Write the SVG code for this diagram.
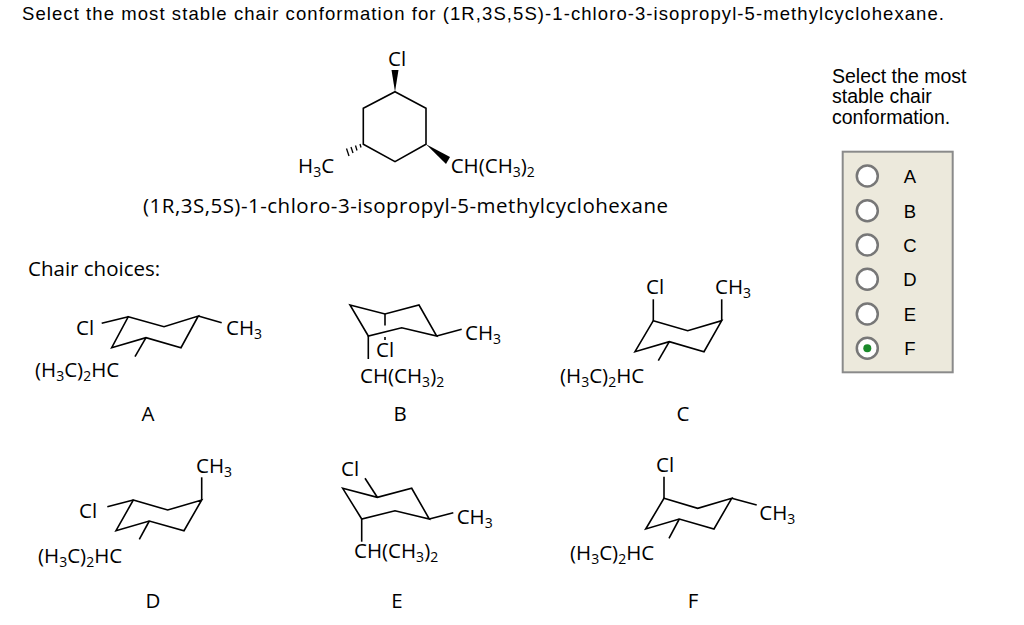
<svg xmlns="http://www.w3.org/2000/svg" width="1024" height="625" viewBox="0 0 1024 625">
<defs>
<style>
.b{fill:none;stroke:#000;stroke-width:1.6;stroke-linejoin:miter}
.t{font-family:"Open Sans","DejaVu Sans",sans-serif;font-size:20.5px;fill:#000}
.s{font-size:14px}
.a{font-family:"Liberation Sans",Arial,sans-serif;fill:#000}
.r{fill:#fff;stroke:#777;stroke-width:2.5}
</style>
</defs>
<rect width="1024" height="625" fill="#fff"/>
<text class="a" x="22" y="20" font-size="18.5" textLength="922">Select the most stable chair conformation for (1R,3S,5S)-1-chloro-3-isopropyl-5-methylcyclohexane.</text>

<g id="molecule">
<polygon class="b" points="395,91.7 426,108.3 426,144.3 395,161.7 363.3,144.3 363.3,108.3"/>
<polygon points="395,91.7 391.5,70 398.5,70" fill="#000"/>
<polygon points="426,144.3 446,164 450,157" fill="#000"/>
<g stroke="#000" stroke-width="1.3">
<line x1="360" y1="144" x2="361" y2="147.5"/><line x1="355.5" y1="145.5" x2="357" y2="150.5"/><line x1="351" y1="147" x2="353" y2="153"/><line x1="346.5" y1="148.5" x2="349" y2="156"/>
</g>
<text class="t" x="388" y="65.7">Cl</text>
<text class="t" x="298" y="173">H<tspan class="s" dy="4">3</tspan><tspan dy="-4">C</tspan></text>
<text class="t" x="450.7" y="173">CH(CH<tspan class="s" dy="4">3</tspan><tspan dy="-4">)</tspan><tspan class="s" dy="4">2</tspan></text>
<text class="t" x="143" y="213" textLength="525">(1R,3S,5S)-1-chloro-3-isopropyl-5-methylcyclohexane</text>
</g>

<text class="t" x="28" y="276">Chair choices:</text>

<g id="chairA">
<polygon class="b" points="128.3,316.7 164,326.7 198.3,316 181,347.7 146,337.7 111.7,347.7"/>
<line class="b" x1="101.7" y1="323.3" x2="128.3" y2="316.7"/>
<line class="b" x1="198.3" y1="316" x2="221.7" y2="322.7"/>
<line class="b" x1="146" y1="337.7" x2="135" y2="356.7"/>
<text class="t" x="76" y="335">Cl</text>
<text class="t" x="226" y="335">CH<tspan class="s" dy="4">3</tspan></text>
<text class="t" x="35" y="377">(H<tspan class="s" dy="4">3</tspan><tspan dy="-4">C)</tspan><tspan class="s" dy="4">2</tspan><tspan dy="-4">HC</tspan></text>
<text class="t" x="148" y="421" text-anchor="middle">A</text>
</g>

<g id="chairB">
<polygon class="b" points="350,305 385,314 419,305 436.7,336 401.7,327.7 368.3,336"/>
<line class="b" x1="385" y1="314" x2="385" y2="325.5"/>
<line class="b" x1="385" y1="337" x2="385" y2="340"/>
<line class="b" x1="368.3" y1="336" x2="368.3" y2="359"/>
<line class="b" x1="436.7" y1="336" x2="461.7" y2="329.3"/>
<text class="t" x="376" y="357">Cl</text>
<text class="t" x="360" y="383">CH(CH<tspan class="s" dy="4">3</tspan><tspan dy="-4">)</tspan><tspan class="s" dy="4">2</tspan></text>
<text class="t" x="465" y="340">CH<tspan class="s" dy="4">3</tspan></text>
<text class="t" x="400" y="421" text-anchor="middle">B</text>
</g>

<g id="chairC">
<polygon class="b" points="653.3,320.7 687.7,330.7 721.7,320.7 704,351.7 669.3,341.7 635,351.7"/>
<line class="b" x1="653.3" y1="320.7" x2="653.3" y2="299.3"/>
<line class="b" x1="721.7" y1="320.7" x2="721.7" y2="299.3"/>
<line class="b" x1="669.3" y1="341.7" x2="658.3" y2="360.7"/>
<text class="t" x="646" y="294">Cl</text>
<text class="t" x="715" y="294">CH<tspan class="s" dy="4">3</tspan></text>
<text class="t" x="560" y="383">(H<tspan class="s" dy="4">3</tspan><tspan dy="-4">C)</tspan><tspan class="s" dy="4">2</tspan><tspan dy="-4">HC</tspan></text>
<text class="t" x="683" y="421" text-anchor="middle">C</text>
</g>

<g id="chairD">
<polygon class="b" points="133.3,500 167.7,510 201.7,500 184,530.7 149.3,521 116,530.7"/>
<line class="b" x1="107.3" y1="506.7" x2="133.3" y2="500"/>
<line class="b" x1="201.7" y1="500" x2="201.7" y2="477.3"/>
<line class="b" x1="149.3" y1="521" x2="139.3" y2="539.3"/>
<text class="t" x="79" y="518">Cl</text>
<text class="t" x="196" y="473">CH<tspan class="s" dy="4">3</tspan></text>
<text class="t" x="38" y="563">(H<tspan class="s" dy="4">3</tspan><tspan dy="-4">C)</tspan><tspan class="s" dy="4">2</tspan><tspan dy="-4">HC</tspan></text>
<text class="t" x="153" y="608" text-anchor="middle">D</text>
</g>

<g id="chairE">
<polygon class="b" points="342.7,488.3 377.3,497.3 411.7,488.3 429.3,519 395,510.7 361.7,519"/>
<line class="b" x1="377.3" y1="497.3" x2="365" y2="478.3"/>
<line class="b" x1="429.3" y1="519" x2="453.3" y2="512.7"/>
<line class="b" x1="361.7" y1="519" x2="361.7" y2="541.7"/>
<text class="t" x="341" y="476">Cl</text>
<text class="t" x="456.7" y="524">CH<tspan class="s" dy="4">3</tspan></text>
<text class="t" x="354" y="558">CH(CH<tspan class="s" dy="4">3</tspan><tspan dy="-4">)</tspan><tspan class="s" dy="4">2</tspan></text>
<text class="t" x="397" y="608" text-anchor="middle">E</text>
</g>

<g id="chairF">
<polygon class="b" points="664,498.3 697.7,508.3 731.7,498.3 714,529 679.3,519 645.7,529"/>
<line class="b" x1="664" y1="498.3" x2="664" y2="476.7"/>
<line class="b" x1="731.7" y1="498.3" x2="756.7" y2="505"/>
<line class="b" x1="679.3" y1="519" x2="669" y2="538.3"/>
<text class="t" x="656" y="471.7">Cl</text>
<text class="t" x="759.3" y="520">CH<tspan class="s" dy="4">3</tspan></text>
<text class="t" x="570" y="560">(H<tspan class="s" dy="4">3</tspan><tspan dy="-4">C)</tspan><tspan class="s" dy="4">2</tspan><tspan dy="-4">HC</tspan></text>
<text class="t" x="693" y="608" text-anchor="middle">F</text>
</g>

<g id="panel">
<text class="a" font-size="19.5" x="832" y="83">Select the most</text>
<text class="a" font-size="19.5" x="832" y="103">stable chair</text>
<text class="a" font-size="19.5" x="832" y="124">conformation.</text>
<rect x="842.7" y="151.7" width="110" height="220.6" fill="#ECE9DC" stroke="#8a8a8a" stroke-width="2"/>
<g class="a" font-size="18.5" text-anchor="middle">
<circle class="r" cx="867.3" cy="176" r="10.5"/><text x="910" y="182.5">A</text>
<circle class="r" cx="867.3" cy="210.7" r="10.5"/><text x="910" y="217.5">B</text>
<circle class="r" cx="867.3" cy="245" r="10.5"/><text x="910" y="251.5">C</text>
<circle class="r" cx="867.3" cy="279.3" r="10.5"/><text x="910" y="286">D</text>
<circle class="r" cx="867.3" cy="314" r="10.5"/><text x="910" y="320.5">E</text>
<circle class="r" cx="867.3" cy="348.3" r="10.5"/><circle cx="867.3" cy="348.3" r="4" fill="#1a8a2a"/><text x="910" y="355">F</text>
</g>
</g>
</svg>
